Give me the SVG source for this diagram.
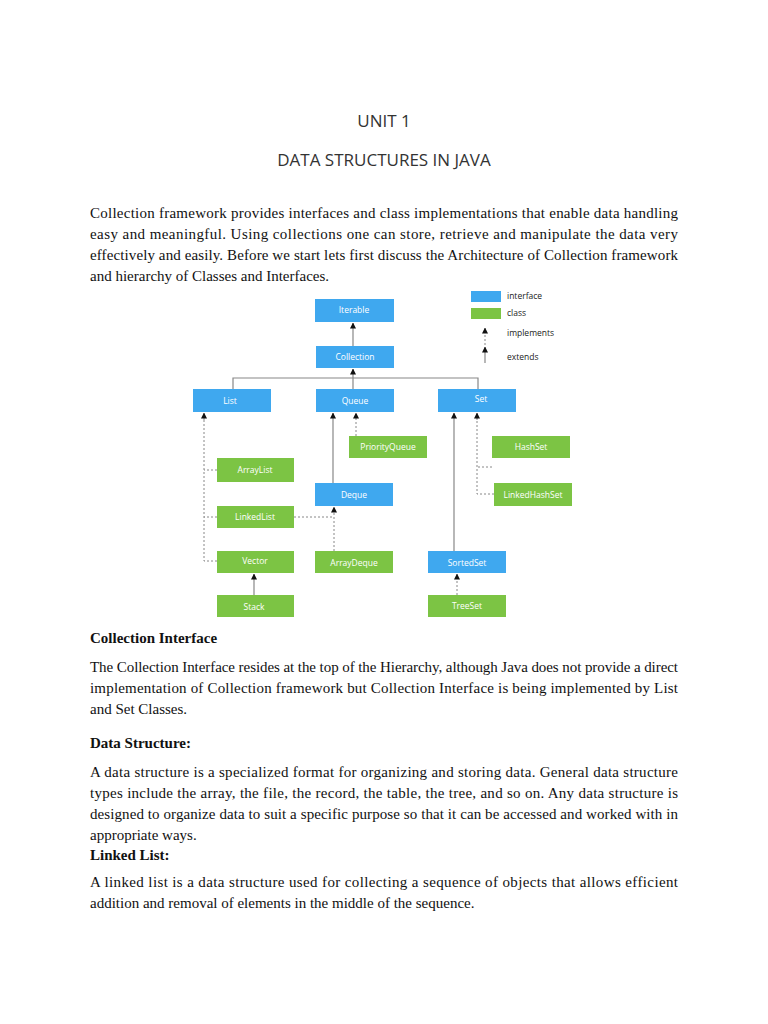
<svg xmlns="http://www.w3.org/2000/svg" width="768" height="1024" viewBox="0 0 768 1024">
<defs>
<style>
.b{fill:#3fa8ef}.g{fill:#7cc444}
.n text{font-family:"Open Sans",sans-serif;font-size:8.5px;fill:#fff;text-anchor:middle}
.lg{font-family:"Open Sans",sans-serif;font-size:8.5px;fill:#222}
.s{stroke:#888;stroke-width:1.2;fill:none}
.d{stroke:#888;stroke-width:1;fill:none;stroke-dasharray:2,2}
.t{font-family:"Open Sans",sans-serif;font-size:17px;fill:#333;text-anchor:middle}
.p{font-family:"Liberation Serif",serif;font-size:15px;fill:#111}
.h{font-family:"Liberation Serif",serif;font-size:15px;font-weight:bold;fill:#111}
</style>
<marker id="m" viewBox="0 0 6 6" refX="5.5" refY="3" markerWidth="6" markerHeight="6" orient="auto" markerUnits="userSpaceOnUse"><path d="M0,0 L6,3 L0,6z" fill="#111"/></marker>
</defs>
<rect width="768" height="1024" fill="#fff"/>
<text class="t" x="384" y="127">UNIT 1</text>
<text class="t" x="384" y="166">DATA STRUCTURES IN JAVA</text>
<text class="p" x="90" y="218" textLength="588" lengthAdjust="spacing">Collection framework provides interfaces and class implementations that enable data handling</text>
<text class="p" x="90" y="239" textLength="588" lengthAdjust="spacing">easy and meaningful. Using collections one can store, retrieve and manipulate the data very</text>
<text class="p" x="90" y="260" textLength="588" lengthAdjust="spacing">effectively and easily. Before we start lets first discuss the Architecture of Collection framework</text>
<text class="p" x="90" y="281">and hierarchy of Classes and Interfaces.</text>

<g id="legend">
<rect class="b" x="471" y="291" width="30" height="11"/>
<rect class="g" x="471" y="308" width="30" height="11"/>
<text class="lg" x="507" y="299">interface</text>
<text class="lg" x="507" y="316">class</text>
<text class="lg" x="507" y="336">implements</text>
<text class="lg" x="507" y="360">extends</text>
<line class="d" x1="485" y1="345" x2="485" y2="328" marker-end="url(#m)"/>
<line class="s" x1="485" y1="363" x2="485" y2="347" marker-end="url(#m)"/>
</g>

<g id="connectors">
<line class="s" x1="353" y1="346" x2="353" y2="323" marker-end="url(#m)"/>
<polyline class="s" points="233,389 233,378 478,378 478,389"/>
<line class="s" x1="353" y1="389" x2="353" y2="369" marker-end="url(#m)"/>
<polyline class="d" points="217,470 204,470"/>
<polyline class="d" points="217,517 204,517"/>
<polyline class="d" points="217,561 204,561 204,413"/>
<line class="d" x1="204" y1="420" x2="204" y2="413" marker-end="url(#m)"/>
<line class="s" x1="333" y1="483" x2="333" y2="413" marker-end="url(#m)"/>
<line class="d" x1="356" y1="436" x2="356" y2="413" marker-end="url(#m)"/>
<line class="d" x1="294" y1="517" x2="334" y2="517"/>
<line class="d" x1="334" y1="551" x2="334" y2="507" marker-end="url(#m)"/>
<line class="s" x1="454" y1="551" x2="454" y2="413" marker-end="url(#m)"/>
<polyline class="d" points="492,467 477,467"/>
<polyline class="d" points="494,494 477,494 477,413"/>
<line class="d" x1="477" y1="420" x2="477" y2="413" marker-end="url(#m)"/>
<line class="s" x1="254" y1="595" x2="254" y2="574" marker-end="url(#m)"/>
<line class="d" x1="457" y1="595" x2="457" y2="574" marker-end="url(#m)"/>
</g>

<g id="Iterable" class="n"><rect class="b" x="315" y="299" width="79" height="23"/><text x="354" y="313">Iterable</text></g>
<g id="Collection" class="n"><rect class="b" x="316" y="346" width="78" height="22"/><text x="355" y="360">Collection</text></g>
<g id="List" class="n"><rect class="b" x="193" y="389" width="78" height="23"/><text x="230" y="404">List</text></g>
<g id="Queue" class="n"><rect class="b" x="316" y="389" width="78" height="23"/><text x="355" y="404">Queue</text></g>
<g id="Set" class="n"><rect class="b" x="438" y="389" width="78" height="23"/><text x="481" y="402">Set</text></g>
<g id="PriorityQueue" class="n"><rect class="g" x="349" y="436" width="78" height="22"/><text x="388" y="450">PriorityQueue</text></g>
<g id="HashSet" class="n"><rect class="g" x="492" y="436" width="78" height="22"/><text x="531" y="450">HashSet</text></g>
<g id="ArrayList" class="n"><rect class="g" x="217" y="458" width="77" height="24"/><text x="255" y="473">ArrayList</text></g>
<g id="Deque" class="n"><rect class="b" x="315" y="483" width="78" height="23"/><text x="354" y="498">Deque</text></g>
<g id="LinkedHashSet" class="n"><rect class="g" x="494" y="483" width="78" height="23"/><text x="533" y="498">LinkedHashSet</text></g>
<g id="LinkedList" class="n"><rect class="g" x="217" y="506" width="77" height="22"/><text x="255" y="520">LinkedList</text></g>
<g id="Vector" class="n"><rect class="g" x="217" y="551" width="77" height="22"/><text x="255" y="564">Vector</text></g>
<g id="ArrayDeque" class="n"><rect class="g" x="315" y="551" width="78" height="22"/><text x="354" y="566">ArrayDeque</text></g>
<g id="SortedSet" class="n"><rect class="b" x="428" y="551" width="78" height="22"/><text x="467" y="566">SortedSet</text></g>
<g id="Stack" class="n"><rect class="g" x="217" y="595" width="77" height="22"/><text x="254" y="610">Stack</text></g>
<g id="TreeSet" class="n"><rect class="g" x="428" y="595" width="78" height="22"/><text x="467" y="609">TreeSet</text></g>

<text class="h" x="90" y="643">Collection Interface</text>
<text class="p" x="90" y="672" textLength="588" lengthAdjust="spacing">The Collection Interface resides at the top of the Hierarchy, although Java does not provide a direct</text>
<text class="p" x="90" y="693" textLength="588" lengthAdjust="spacing">implementation of Collection framework but Collection Interface is being implemented by List</text>
<text class="p" x="90" y="714">and Set Classes.</text>
<text class="h" x="90" y="748">Data Structure:</text>
<text class="p" x="90" y="777" textLength="588" lengthAdjust="spacing">A data structure is a specialized format for organizing and storing data. General data structure</text>
<text class="p" x="90" y="798" textLength="588" lengthAdjust="spacing">types include the array, the file, the record, the table, the tree, and so on. Any data structure is</text>
<text class="p" x="90" y="819" textLength="588" lengthAdjust="spacing">designed to organize data to suit a specific purpose so that it can be accessed and worked with in</text>
<text class="p" x="90" y="840">appropriate ways.</text>
<text class="h" x="90" y="860">Linked List:</text>
<text class="p" x="90" y="887" textLength="588" lengthAdjust="spacing">A linked list is a data structure used for collecting a sequence of objects that allows efficient</text>
<text class="p" x="90" y="908">addition and removal of elements in the middle of the sequence.</text>
</svg>
